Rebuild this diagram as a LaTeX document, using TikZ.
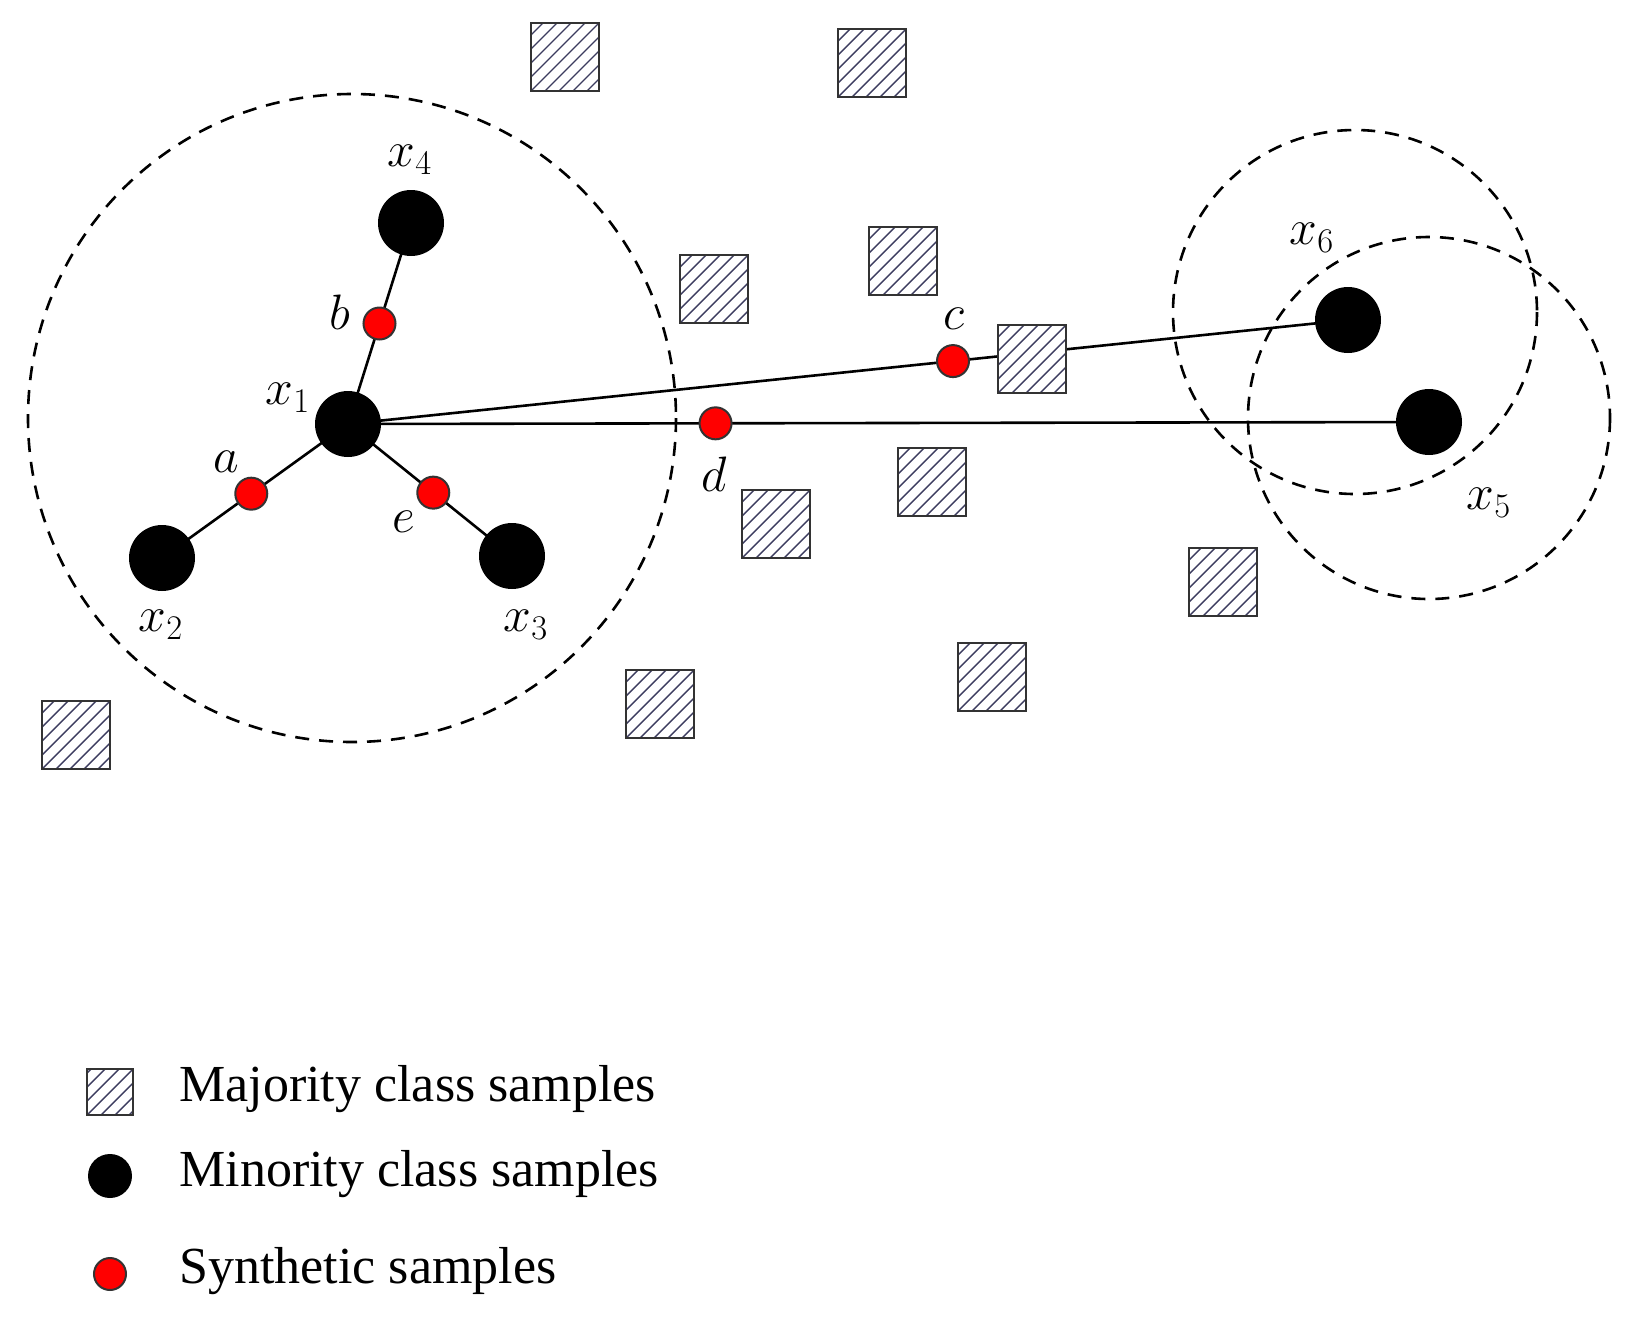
\documentclass[tikz,border=0pt]{standalone}
\usepackage{fontspec}
\setmainfont{Liberation Serif}
\usetikzlibrary{backgrounds,calc}
\definecolor{hatch}{RGB}{60,60,95}
\tikzset{
  maj/.style={draw=black!80, line width=1.4pt, minimum size=34pt, inner sep=0pt, fill=white,
    path picture={\foreach \i in {-4,...,4}{\draw[hatch, line width=0.7pt]
      ($(path picture bounding box.center)+(\i*7pt-20pt,-20pt)$) -- +(40pt,40pt);}}},
  legmaj/.style={maj, minimum size=23pt},
  minr/.style={circle, fill=black, minimum size=33pt, inner sep=0pt},
  legmin/.style={minr, minimum size=22pt},
  syn/.style={circle, fill=red, draw=black!80, line width=1pt, minimum size=16pt, inner sep=0pt},
  conn/.style={line width=1.3pt},
  nbr/.style={dash pattern=on 7pt off 5pt, line width=1.3pt},
  lab/.style={font=\fontsize{24}{28}\selectfont, inner sep=0pt},
  leg/.style={font=\fontsize{26}{30}\selectfont, anchor=west, inner sep=0pt}
}
\begin{document}
\begin{tikzpicture}[x=0.5pt,y=-0.5pt]
\useasboundingbox (0,0) rectangle (1640,1318);
% majority squares
\node[maj] (m1) at (565,57) {};
\node[maj] (m2) at (872,63) {};
\node[maj] (m3) at (714,289) {};
\node[maj] (m4) at (903,261) {};
\node[maj] (m5) at (1032,359) {};
\node[maj] (m6) at (932,482) {};
\node[maj] (m7) at (776,524) {};
\node[maj] (m8) at (660,704) {};
\node[maj] (m9) at (992,677) {};
\node[maj] (m10) at (76,735) {};
\node[maj] (m11) at (1223,582) {};
% minority
\node[minr] (x1) at (348,424) {};
\node[minr] (x2) at (162,558) {};
\node[minr] (x3) at (512,556) {};
\node[minr] (x4) at (411,223) {};
\node[minr] (x5) at (1429,422) {};
\node[minr] (x6) at (1348,320) {};
% neighbourhoods
\draw[nbr] (352,418) circle [radius=324];
\draw[nbr] (1355,312) circle [radius=182];
\draw[nbr] (1429,418) circle [radius=181];
% connectors
\begin{scope}[on background layer]
\draw[conn] (x1.center) -- (x2.center);
\draw[conn] (x1.center) -- (x3.center);
\draw[conn] (x1.center) -- (x4.center);
\draw[conn] (x1.center) -- (x5.center);
\draw[conn] (x1.center) -- (x6.center);
\end{scope}
% synthetic
\node[syn] (a) at ($(x1)!0.52!(x2)$) {};
\node[syn] (b) at ($(x1)!0.50!(x4)$) {};
\node[syn] (e) at ($(x1)!0.52!(x3)$) {};
\node[syn] (c) at ($(x1)!0.605!(x6)$) {};
\node[syn] (d) at ($(x1)!0.34!(x5)$) {};
% labels
\node[lab] (lx1) at (288,398) {$x_1$};
\node[lab] (lx2) at (161,625) {$x_2$};
\node[lab] (lx3) at (526,625) {$x_3$};
\node[lab] (lx4) at (410,160) {$x_4$};
\node[lab] (lx5) at (1489,503) {$x_5$};
\node[lab] (lx6) at (1312,238) {$x_6$};
\node[lab] (la) at (226,462) {$a$};
\node[lab] (lb) at (340,312) {$b$};
\node[lab] (lc) at (954,319) {$c$};
\node[lab] (ld) at (714,474) {$d$};
\node[lab] (le) at (404,522) {$e$};
% legend
\node[legmaj] (k1) at (110,1092) {};
\node[legmin] (k2) at (110,1176) {};
\node[syn] (k3) at (110,1274) {};
\node[leg] (t1) at (179,1089) {Majority class samples};
\node[leg] (t2) at (179,1174) {Minority class samples};
\node[leg] (t3) at (179,1271) {Synthetic samples};
\end{tikzpicture}
\end{document}
